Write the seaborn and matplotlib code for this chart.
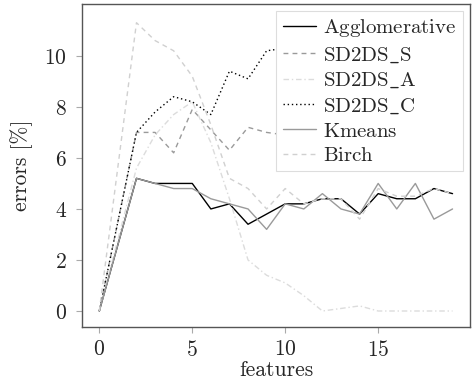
import matplotlib
matplotlib.use("Agg")
import matplotlib.pyplot as plt
import seaborn as sns
import pandas as pd

features = [0, 2, 3, 4, 5, 6, 7, 8, 9, 10, 11, 12, 13, 14, 15, 16, 17, 18, 19]

agglomerative = [0, 5.2, 5.0, 5.0, 5.0, 4.0, 4.2, 3.4, 3.8, 4.2, 4.2, 4.4, 4.4, 3.8, 4.6, 4.4, 4.4, 4.8, 4.6]
sd2ds_s = [0, 7.0, 7.0, 6.2, 7.9, 7.1, 6.3, 7.2, 7.0, 6.9, 6.9, 7.0, 6.9, 7.0, 7.0, 6.9, 7.0, 7.0, 6.9]
sd2ds_a = [0, 5.6, 6.9, 7.7, 8.2, 6.6, 4.4, 2.0, 1.4, 1.1, 0.6, 0.0, 0.1, 0.2, 0.0, 0.0, 0.0, 0.0, 0.0]
sd2ds_c = [0, 7.0, 7.8, 8.4, 8.2, 7.7, 9.4, 9.1, 10.2, 10.3, 10.3, 10.4, 10.3, 10.4, 10.4, 10.5, 10.4, 10.5, 10.5]
kmeans = [0, 5.2, 5.0, 4.8, 4.8, 4.4, 4.2, 4.0, 3.2, 4.2, 4.0, 4.6, 4.0, 3.8, 5.0, 4.0, 5.0, 3.6, 4.0]
birch = [0, 11.3, 10.6, 10.2, 9.2, 7.3, 5.2, 4.8, 4.0, 4.8, 4.2, 4.4, 4.4, 3.6, 4.8, 4.5, 4.5, 4.8, 4.6]

series_names = ["Agglomerative", "SD2DS_S", "SD2DS_A", "SD2DS_C", "Kmeans", "Birch"]
series_values = [agglomerative, sd2ds_s, sd2ds_a, sd2ds_c, kmeans, birch]

styles = {
    "Agglomerative": dict(color="black", dashes=None),
    "SD2DS_S": dict(color="#9a9a9a", dashes=(3.5, 3)),
    "SD2DS_A": dict(color="#dcdcdc", dashes=(4, 2, 1, 2)),
    "SD2DS_C": dict(color="black", dashes=(1, 2)),
    "Kmeans": dict(color="#9a9a9a", dashes=None),
    "Birch": dict(color="#d0d0d0", dashes=(3.5, 3)),
}

sns.set_theme(style="white")
plt.rcParams["font.family"] = ["cmr10", "DejaVu Serif"]
plt.rcParams["axes.formatter.use_mathtext"] = True
plt.rcParams["mathtext.fontset"] = "cm"

fig = plt.figure(figsize=(4.74, 3.83), dpi=100)
ax = fig.add_axes([0.173, 0.146, 0.819, 0.844])

for name, vals in zip(series_names, series_values):
    df = pd.DataFrame({"features": features, "errors": vals})
    st = styles[name]
    label = "$\\mathrm{" + name.replace("_", "\\_") + "}$"
    sns.lineplot(data=df, x="features", y="errors", ax=ax, color=st["color"],
                 linewidth=1.0, label=label)
    l = ax.get_lines()[-1]
    if st["dashes"] is not None:
        l.set_dashes(st["dashes"])

ax.set_xlim(-0.93, 19.95)
ax.set_ylim(-0.63, 12.04)
ax.set_xticks([0, 5, 10, 15])
ax.set_yticks([0, 2, 4, 6, 8, 10])
ax.set_xlabel("features", fontsize=15.5, labelpad=1)
ax.set_ylabel("errors [%]", fontsize=15.5, labelpad=8)
ax.tick_params(axis="both", labelsize=15.5, direction="out", length=4, width=0.8,
               color="#aaaaaa", bottom=True, left=True)
ax.tick_params(axis="x", pad=5)
ax.tick_params(axis="y", pad=7)
for s in ax.spines.values():
    s.set_color("#555555")
    s.set_linewidth(1.0)

leg = ax.legend(loc="upper right", fontsize=15, frameon=True, fancybox=False,
                framealpha=1.0, edgecolor="#dddddd", handlelength=1.6,
                handletextpad=0.35, labelspacing=0.29, borderpad=0.3,
                borderaxespad=0.35)
leg.get_frame().set_linewidth(0.8)

fig.savefig("out.png", dpi=100)
